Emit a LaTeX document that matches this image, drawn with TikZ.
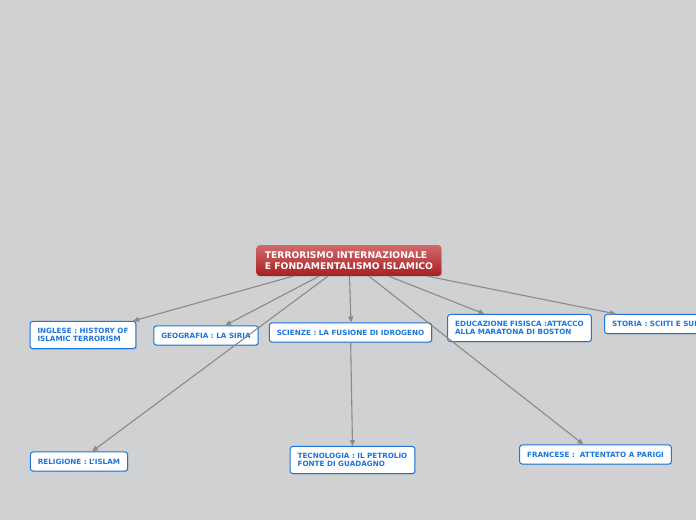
\documentclass[tikz,border=0pt]{standalone}
\usepackage{fontspec}
\setsansfont{DejaVu Sans}
\usetikzlibrary{arrows.meta,shadows}
\definecolor{bgcol}{HTML}{D0D1D3}
\definecolor{topicblue}{HTML}{1A75DC}
\definecolor{linkgray}{HTML}{8A8A8A}
\definecolor{roottop}{HTML}{D26A6A}
\definecolor{rootbot}{HTML}{A51F22}

\begin{document}
\begin{tikzpicture}[x=1pt,y=-1pt,
    topic/.style={draw=topicblue, line width=1pt, fill=white,
      rounded corners=2.5pt, text=topicblue, align=left,
      font=\sffamily\bfseries\fontsize{7.2}{8}\selectfont,
      inner xsep=7.5pt, inner ysep=6.8pt,
      drop shadow={opacity=.25, shadow xshift=.8pt, shadow yshift=-1pt}},
    central/.style={top color=roottop, bottom color=rootbot,
      rounded corners=3pt, text=white, align=left,
      font=\sffamily\bfseries\fontsize{9.2}{10.5}\selectfont,
      inner xsep=8.3pt, inner ysep=6.7pt,
      drop shadow={opacity=.25, shadow xshift=.8pt, shadow yshift=-1pt}},
    link/.style={draw=linkgray, line width=1.1pt,
      -{Triangle[length=6pt,width=5pt]}}]
  \useasboundingbox (0,0) rectangle (696,520);
  \fill[bgcol] (0,0) rectangle (696,520);
  \clip (0,0) rectangle (696,520);

  % main topic
  \node[central] (root) at (349,260.5)
    {TERRORISMO INTERNAZIONALE\\E FONDAMENTALISMO ISLAMICO};

  % first row
  \node[topic] (inglese) at (83,335) {INGLESE : HISTORY OF\\ISLAMIC TERRORISM};
  \node[topic] (geografia) at (206,335.5) {GEOGRAFIA : LA SIRIA};
  \node[topic] (scienze) at (350.5,332.5) {SCIENZE : LA FUSIONE DI IDROGENO};
  \node[topic] (educazione) at (519.5,328)
    {EDUCAZIONE FISISCA :ATTACCO\\ALLA MARATONA DI BOSTON};
  \node[topic, anchor=west] (storia) at (604,324) {STORIA : SCIITI E SUNNITI};

  % second row
  \node[topic] (religione) at (79,461.5) {RELIGIONE : L'ISLAM};
  \node[topic] (tecnologia) at (352.5,460)
    {TECNOLOGIA : IL PETROLIO\\FONTE DI GUADAGNO};
  \node[topic] (francese) at (595.5,454.5) {FRANCESE :~ ATTENTATO A PARIGI};

  \draw[link] (root) -- ([xshift=50pt]inglese.north);
  \draw[link] (root) -- ([xshift=19pt]geografia.north);
  \draw[link] (root) -- ([xshift=.5pt]scienze.north);
  \draw[link] (root) -- ([xshift=-35pt]educazione.north);
  \draw[link] (root) -- ([xshift=12pt]storia.north west);
  \draw[link] (root) -- ([xshift=13pt]religione.north);
  \draw[link] (root) -- ([xshift=-12pt]francese.north);
  \draw[link] (scienze) -- (tecnologia.north);
\end{tikzpicture}
\end{document}
